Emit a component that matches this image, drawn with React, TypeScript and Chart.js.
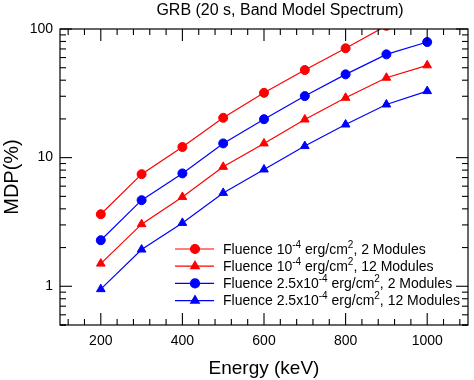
import React, { useEffect, useRef } from "react";
import { Chart, registerables } from "chart.js";
import { drawPoint } from "chart.js/helpers";

Chart.register(...registerables);

// ---- data ----
const energies = [200, 300, 400, 500, 600, 700, 800, 900, 1000];
const mdpF1M2 = [3.63, 7.44, 12.1, 20.4, 31.9, 48.0, 70.8, 106, 150];
const mdpF1M12 = [1.5, 3.04, 4.95, 8.48, 12.9, 19.8, 29.2, 41.8, 52.2];
const mdpF25M2 = [2.28, 4.67, 7.54, 12.9, 19.9, 30.1, 44.4, 63.5, 79.2];
const mdpF25M12 = [0.95, 1.93, 3.11, 5.32, 8.09, 12.3, 18.1, 25.9, 32.9];
const seriesLabels = [
  "Fluence 10⁻⁴ erg/cm², 2 Modules",
  "Fluence 10⁻⁴ erg/cm², 12 Modules",
  "Fluence 2.5x10⁻⁴ erg/cm², 2 Modules",
  "Fluence 2.5x10⁻⁴ erg/cm², 12 Modules",
];
const xTickLabels = [200, 400, 600, 800, 1000];
const yTickLabels = [1, 10, 100];
const titleText = "GRB (20 s, Band Model Spectrum)";
const xTitle = "Energy (keV)";
const yTitle = "MDP(%)";

const RED = "#ff0000";
const BLUE = "#0000ff";
const FONT = "'Liberation Sans', Arial, Helvetica, sans-serif";

const xMin = 100;
const xMax = 1100;
const yMin = 0.5;
const yMax = 100;

function xMinorTicks(): number[] {
  const out: number[] = [];
  for (let v = 120; v < xMax; v += 40) if (!xTickLabels.includes(v)) out.push(v);
  return out;
}
function yMinorTicks(): number[] {
  const out: number[] = [];
  for (let d = 0.1; d < yMax; d *= 10) {
    for (let m = 2; m <= 9; m++) {
      const v = Math.round(m * d * 1000) / 1000;
      if (v >= yMin && v <= yMax) out.push(v);
    }
  }
  out.push(0.5);
  return out;
}

const SUP: Record<string, string> = { "⁻": "-", "⁴": "4", "²": "2", "⁰": "0", "¹": "1", "³": "3" };

function drawRich(ctx: CanvasRenderingContext2D, text: string, x: number, y: number) {
  let cx = x;
  let run = "";
  let runSup = false;
  const flush = () => {
    if (!run) return;
    if (runSup) {
      ctx.font = `10px ${FONT}`;
      ctx.fillText(run, cx, y - 5);
    } else {
      ctx.font = `14px ${FONT}`;
      ctx.fillText(run, cx, y);
    }
    cx += ctx.measureText(run).width;
    run = "";
  };
  for (const ch of text) {
    const isSup = ch in SUP;
    if (isSup !== runSup) {
      flush();
      runSup = isSup;
    }
    run += isSup ? SUP[ch] : ch;
  }
  flush();
}

const framePlugin = {
  id: "frame",
  afterDraw(chart: any) {
    const { ctx, chartArea: a, scales } = chart;
    const xs = scales.x;
    const ys = scales.y;
    ctx.save();
    ctx.strokeStyle = "#000";
    ctx.lineWidth = 1.2;
    ctx.strokeRect(a.left, a.top, a.right - a.left, a.bottom - a.top);
    ctx.lineWidth = 1.1;
    const tick = (x1: number, y1: number, x2: number, y2: number) => {
      ctx.beginPath();
      ctx.moveTo(x1, y1);
      ctx.lineTo(x2, y2);
      ctx.stroke();
    };
    const xt = (v: number, len: number) => {
      const p = xs.getPixelForValue(v);
      tick(p, a.bottom, p, a.bottom - len);
      tick(p, a.top, p, a.top + len);
    };
    const yt = (v: number, len: number) => {
      const p = ys.getPixelForValue(v);
      tick(a.left, p, a.left + len, p);
      tick(a.right, p, a.right - len, p);
    };
    xTickLabels.forEach((v) => xt(v, 12));
    xMinorTicks().forEach((v) => xt(v, 6));
    yTickLabels.forEach((v) => yt(v, 12));
    yMinorTicks().forEach((v) => yt(v, 6));

    // title
    ctx.fillStyle = "#000";
    ctx.font = `16px ${FONT}`;
    ctx.textAlign = "center";
    ctx.textBaseline = "middle";
    ctx.fillText(titleText, (a.left + a.right) / 2 + 16, 11);

    // legend
    ctx.textAlign = "left";
    ctx.textBaseline = "middle";
    const lx = a.left + 115;
    const ly0 = a.top + 220;
    chart.data.datasets.forEach((ds: any, i: number) => {
      const yy = ly0 + i * 17.2;
      ctx.strokeStyle = ds.borderColor;
      ctx.fillStyle = ds.backgroundColor;
      ctx.lineWidth = ds.borderWidth;
      tick(lx, yy, lx + 39, yy);
      drawPoint(
        ctx,
        { pointStyle: ds.pointStyle, radius: ds.pointRadius, rotation: 0, borderWidth: 1 },
        lx + 20,
        yy
      );
      ctx.fillStyle = "#000";
      drawRich(ctx, ds.label, lx + 48, yy + 1);
    });
    ctx.restore();
  },
};

export default function App() {
  const ref = useRef<HTMLCanvasElement | null>(null);
  useEffect(() => {
    document.body.style.margin = "0";
    const canvas = ref.current;
    if (!canvas) return;
    const mk = (label: string, data: number[], color: string, style: string, r: number) => ({
      label,
      data: energies.map((e, i) => ({ x: e, y: data[i] })),
      borderColor: color,
      backgroundColor: color,
      borderWidth: 1.2,
      pointStyle: style,
      pointRadius: r,
      pointBorderWidth: 1,
      pointBackgroundColor: color,
      pointBorderColor: color,
      clip: 0,
    });
    const chart = new Chart(canvas, {
      type: "line",
      data: {
        datasets: [
          mk(seriesLabels[0], mdpF1M2, RED, "circle", 4.5),
          mk(seriesLabels[1], mdpF1M12, RED, "triangle", 5),
          mk(seriesLabels[2], mdpF25M2, BLUE, "circle", 4.5),
          mk(seriesLabels[3], mdpF25M12, BLUE, "triangle", 5),
        ] as any,
      },
      options: {
        responsive: false,
        animation: false,
        layout: { padding: { top: 29, right: 2, left: 0, bottom: 0 } },
        plugins: { legend: { display: false }, tooltip: { enabled: false }, title: { display: false } },
        scales: {
          x: {
            type: "linear",
            min: xMin,
            max: xMax,
            grid: { display: false, drawTicks: false },
            border: { display: false },
            afterBuildTicks: (s: any) => {
              s.ticks = xTickLabels.map((v) => ({ value: v }));
            },
            afterFit: (s: any) => {
              s.height = 55;
            },
            ticks: {
              autoSkip: false,
              maxRotation: 0,
              padding: 8,
              color: "#000",
              font: { family: FONT, size: 14 },
              callback: (v: any) => String(v),
            },
            title: {
              display: true,
              text: xTitle,
              color: "#000",
              padding: 0,
              font: { family: FONT, size: 19 },
            },
          },
          y: {
            type: "logarithmic",
            min: yMin,
            max: yMax,
            grid: { display: false, drawTicks: false },
            border: { display: false },
            afterBuildTicks: (s: any) => {
              s.ticks = yTickLabels.map((v) => ({ value: v }));
            },
            afterFit: (s: any) => {
              s.width = 60;
            },
            ticks: {
              autoSkip: false,
              padding: 7,
              color: "#000",
              font: { family: FONT, size: 14 },
              callback: (v: any) => String(v),
            },
            title: {
              display: true,
              text: yTitle,
              color: "#000",
              padding: 0,
              font: { family: FONT, size: 20 },
            },
          },
        },
      },
      plugins: [framePlugin],
    } as any);
    return () => chart.destroy();
  }, []);
  return (
    <div style={{ width: 474, height: 380 }}>
      <canvas ref={ref} width={474} height={380} style={{ display: "block" }} />
    </div>
  );
}
